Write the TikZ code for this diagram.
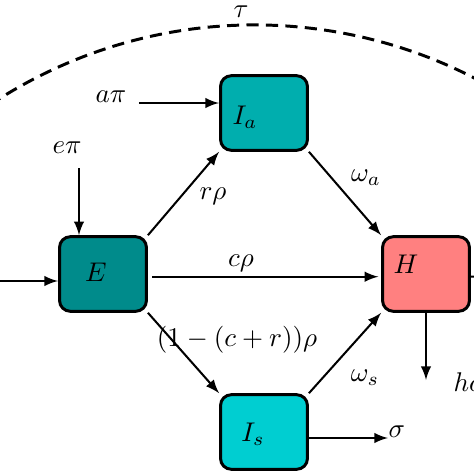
\documentclass[tikz,border=0pt]{standalone}
\usepackage{amsmath}
\usepackage{amsfonts}
\usepackage{tikz}
\usetikzlibrary{arrows}

\definecolor{ecol}{RGB}{0,139,139}
\definecolor{iacol}{RGB}{0,174,174}
\definecolor{iscol}{RGB}{0,206,209}
\definecolor{hcol}{RGB}{255,128,128}

\begin{document}
\begin{tikzpicture}[x=0.13cm, y=0.13cm,
        box/.style={draw, line width=1.1pt, rounded corners=4pt, minimum width=1.13cm, minimum height=0.97cm},
        flow/.style={-latex, line width=0.75pt}]
        \useasboundingbox (0, 0) rectangle (47.4, 47.4);
        \foreach \name/\x/\y/\col in {E/10.3/20.0/ecol, Ia/26.4/36.1/iacol, Is/26.4/4.2/iscol, H/42.6/20.0/hcol}
        {
            \node[box, fill=\col] (\name) at (\x, \y) {};
        }
        \node (lE) at (9.6, 20.2) {$E$};
        \node (lIa) at (24.5, 35.7) {$I_a$};
        \node (lIs) at (25.3, 4.0) {$I_s$};
        \node (lH) at (40.6, 21.0) {$H$};
        % inflows
        \coordinate (sin) at (0, 19.3);
        \draw[flow] (sin) -- (sin -| E.west);
        \node (epi) at (6.7, 32.6) {$e\pi$};
        \coordinate (ein) at (7.9, 30.6);
        \draw[flow] (ein) -- (ein |- E.north);
        \node (api) at (11.1, 37.7) {$a\pi$};
        \coordinate (ain) at (13.9, 37.1);
        \draw[flow] (ain) -- (ain -| Ia.west);
        % transfers
        \draw[flow] (E.north east) -- (Ia.south west);
        \node (lrrho) at (21.3, 27.8) {$r\rho$};
        \draw[flow] (Ia.south east) -- (H.north west);
        \node (lwa) at (36.6, 29.6) {$\omega_a$};
        \draw[flow, shorten <=1.5pt, shorten >=1pt] ([yshift=-1pt]E.east) -- ([yshift=-1pt]H.west);
        \node (lcrho) at (24.1, 21.1) {$c\rho$};
        \draw[flow] (E.south east) -- (Is.north west);
        \node (lcr) at (23.7, 13.4) {$(1-(c+r))\rho$};
        \draw[flow] (Is.north east) -- (H.south west);
        \node (lws) at (36.5, 9.6) {$\omega_s$};
        % outflows
        \node[anchor=base west, inner sep=0pt] (sigma) at (38.8, 3.6) {$\sigma$};
        \draw[flow] (Is.east |- sigma.base west) -- (sigma.base west);
        \coordinate (hout) at (42.6, 9.4);
        \draw[flow] (H.south) -- (hout);
        \node[anchor=base west, inner sep=0pt] (hc) at (45.3, 8.2) {$hc$};
        \coordinate (hright) at (50, 19.7);
        \draw[flow] ([yshift=-1pt]H.east) -- (hright);
        % recovery loop
        \draw[dashed, line width=1.1pt, dash pattern=on 4.5pt off 2.7pt] (25.5, -3.1) ++(170:48) arc (170:10:48);
        \node[inner sep=1pt] (tau) at (24.1, 46.2) {$\tau$};
    \end{tikzpicture}
\end{document}
